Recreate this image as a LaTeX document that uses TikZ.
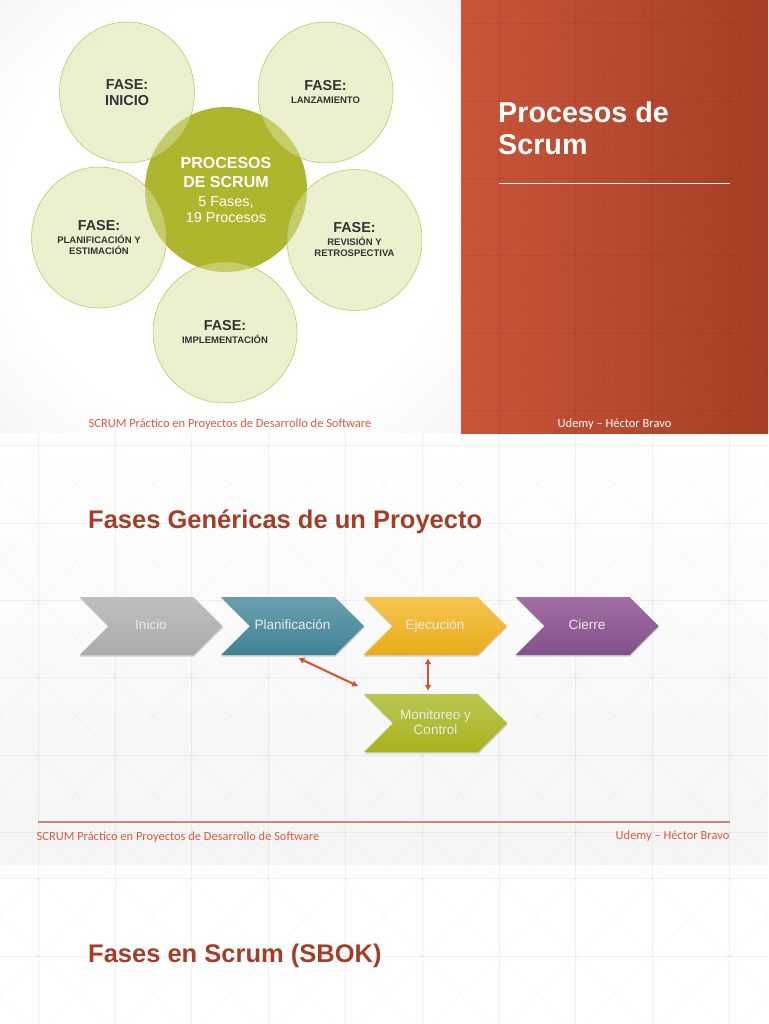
\documentclass[tikz,border=0pt]{standalone}
\usepackage{fontspec}
\setmainfont{Liberation Sans}
\newfontfamily\footfont{Carlito}
\usetikzlibrary{arrows.meta,shapes.geometric,shapes.symbols,shadows}
\definecolor{rustred}{HTML}{A23F28}
\definecolor{footred}{HTML}{DD5A3C}
\definecolor{olive}{HTML}{AEB62E}
\definecolor{linkred}{HTML}{D9502F}
\definecolor{fasefill}{HTML}{DBE3A3}
\definecolor{panelA}{HTML}{C9553A}
\definecolor{panelB}{HTML}{A63E24}
\definecolor{stepblueA}{HTML}{6BA0AF}
\definecolor{stepblueB}{HTML}{3E8296}
\definecolor{stepyelA}{HTML}{F6C452}
\definecolor{stepyelB}{HTML}{E9AC17}
\definecolor{stepvioA}{HTML}{A06FA3}
\definecolor{stepvioB}{HTML}{85508C}
\definecolor{stepgreA}{HTML}{BBC553}
\definecolor{stepgreB}{HTML}{A8B31D}
\pgfdeclareradialshading{slideglow}{\pgfpoint{0bp}{0bp}}{color(0bp)=(white);color(24bp)=(white);color(40bp)=(black!5);color(50bp)=(black!7)}
\newcommand{\fasehead}{\fontsize{14.4}{16}\selectfont\bfseries}
\newcommand{\fasesub}{\fontsize{9.5}{12}\selectfont\bfseries}
% one block of the slide pattern, cut by the clip of its scope
\newcommand{\slidegrid}[2]{%
  \foreach \xx in {-38.8,38,...,800}
    \foreach \yy in {#1,...,#2} {
      \draw[grid line] (\xx,\yy) -- ++(76.8,0);
      \draw[grid line] (\xx,\yy) -- ++(0,77.4);
      \draw[diag line] (\xx,\yy) -- ++(76.8,77.4);
      \draw[diag line] (\xx,\yy) ++(76.8,0) -- ++(-76.8,77.4);
    }}
\tikzset{
  fase node/.style={ellipse,draw=olive,line width=0.5pt,fill=fasefill,fill opacity=.52,
    draw opacity=.8,text opacity=1,inner sep=0pt,minimum width=135pt,minimum height=141pt,
    align=center,text=black!80},
  step node/.style={signal,signal from=west,signal to=east,signal pointer angle=90,
    minimum width=143pt,minimum height=58pt,inner sep=0pt,align=center,text=white!92!black,
    font=\fontsize{13.5}{15}\selectfont,text height=10pt,text depth=4pt,
    drop shadow={shadow xshift=0.6pt,shadow yshift=-1.5pt,opacity=.35}},
  foot node/.style={font=\footfont\fontsize{12.45}{15}\selectfont,text=footred,inner sep=0pt},
  title node/.style={font=\bfseries\fontsize{25.5}{28}\selectfont,text=rustred,inner sep=0pt,anchor=west},
  link/.style={{Latex[length=6pt,width=7pt]}-{Latex[length=6pt,width=7pt]},draw=linkred,line width=2pt},
  grid line/.style={draw=black,draw opacity=.05,line width=0.5pt},
  diag line/.style={draw=black,draw opacity=.03,line width=0.5pt}
}
\begin{document}
\begin{tikzpicture}[x=1pt,y=-1pt]
  \useasboundingbox (0,0) rectangle (768,1024);
  % backgrounds
  \shade[shading=slideglow] (0,0) rectangle (461,433);
  \shade[top color=white,bottom color=black!4] (0,433) rectangle (768,865);
  \fill[white] (0,865) rectangle (768,1024);
  \shade[left color=panelA,right color=panelB] (461,0) rectangle (768,433);
  % pattern of the slides
  \begin{scope}
    \clip (461,0) rectangle (768,433);
    \slidegrid{-54,23.4}{411}
  \end{scope}
  \begin{scope}
    \clip (0,433) rectangle (768,865);
    \slidegrid{368,445.4}{840}
  \end{scope}
  \begin{scope}
    \clip (0,865) rectangle (768,1024);
    \slidegrid{801,878.4}{1030}
  \end{scope}
  % first slide
  \node[ellipse,fill=olive,inner sep=0pt,minimum width=162pt,minimum height=165pt,
        align=center,text=white] (centre) at (226,189.5)
    {\fontsize{16}{19}\selectfont\bfseries PROCESOS\\[7pt]
     \fontsize{16}{19}\selectfont\bfseries DE SCRUM\\[7pt]
     \fontsize{14.4}{17}\selectfont 5 Fases,\\[4pt]
     \fontsize{14.4}{16}\selectfont 19 Procesos};
  \node[fase node] (inicio) at (127,92.5) {\fasehead FASE:\\[4pt]\fasehead INICIO};
  \node[fase node] (lanza) at (325.5,92.5) {\fasehead FASE:\\[1pt]\fasesub LANZAMIENTO};
  \node[fase node] (plani) at (99,237.5) {\fasehead FASE:\\[1pt]\fasesub PLANIFICACIÓN Y\\[-1pt]\fasesub ESTIMACIÓN};
  \node[fase node] (revi) at (354.5,240) {\fasehead FASE:\\[1pt]\fasesub REVISIÓN Y\\[-1pt]\fasesub RETROSPECTIVA};
  \node[fase node,minimum width=144pt] (imple) at (225,332.5) {\fasehead FASE:\\[1pt]\fasesub IMPLEMENTACIÓN};
  \node[foot node] (foota) at (230,424) {SCRUM Práctico en Proyectos de Desarrollo de Software};
  \node[foot node,text=white] (udemya) at (614.5,424) {Udemy – Héctor Bravo};
  \node[inner sep=0pt,anchor=north west,align=left,text=white,font=\bfseries\fontsize{28.7}{32}\selectfont] (titlea) at (498,102) {Procesos de\\Scrum};
  \coordinate (rulea) at (499,183);
  \coordinate (ruleb) at (730,183);
  \draw[white,line width=0.8pt] (rulea) -- (ruleb);
  % second slide
  \node[title node] (titleb) at (88,522) {Fases Genéricas de un Proyecto};
  \node[step node,top color=black!25,bottom color=black!33] (inicioS) at (151,626) {Inicio};
  \node[step node,top color=stepblueA,bottom color=stepblueB] (planif) at (292.5,626) {Planificación};
  \node[step node,top color=stepyelA,bottom color=stepyelB] (ejecu) at (435,626) {Ejecución};
  \node[step node,top color=stepvioA,bottom color=stepvioB] (cierre) at (587,626) {Cierre};
  \node[step node,top color=stepgreA,bottom color=stepgreB,text height=28pt,text depth=6pt] (monitor) at (435.5,723) {Monitoreo y\\Control};
  \coordinate (monlink) at (361,687.5);
  \draw[link,shorten <=6.5pt,shorten >=3pt] (planif.south) -- (monlink);
  \draw[link,shorten <=3pt,shorten >=3pt] ([xshift=-7pt]ejecu.south) -- ([xshift=-7.5pt]monitor.north);
  \coordinate (rulec) at (38,822);
  \coordinate (ruled) at (730,822);
  \draw[draw=rustred!60,line width=1.2pt] (rulec) -- (ruled);
  \node[foot node] (footb) at (178,837) {SCRUM Práctico en Proyectos de Desarrollo de Software};
  \node[foot node,anchor=east] (udemyb) at (729.5,836) {Udemy – Héctor Bravo};
  % third slide
  \node[title node] (titlec) at (88,956) {Fases en Scrum (SBOK)};
\end{tikzpicture}
\end{document}
